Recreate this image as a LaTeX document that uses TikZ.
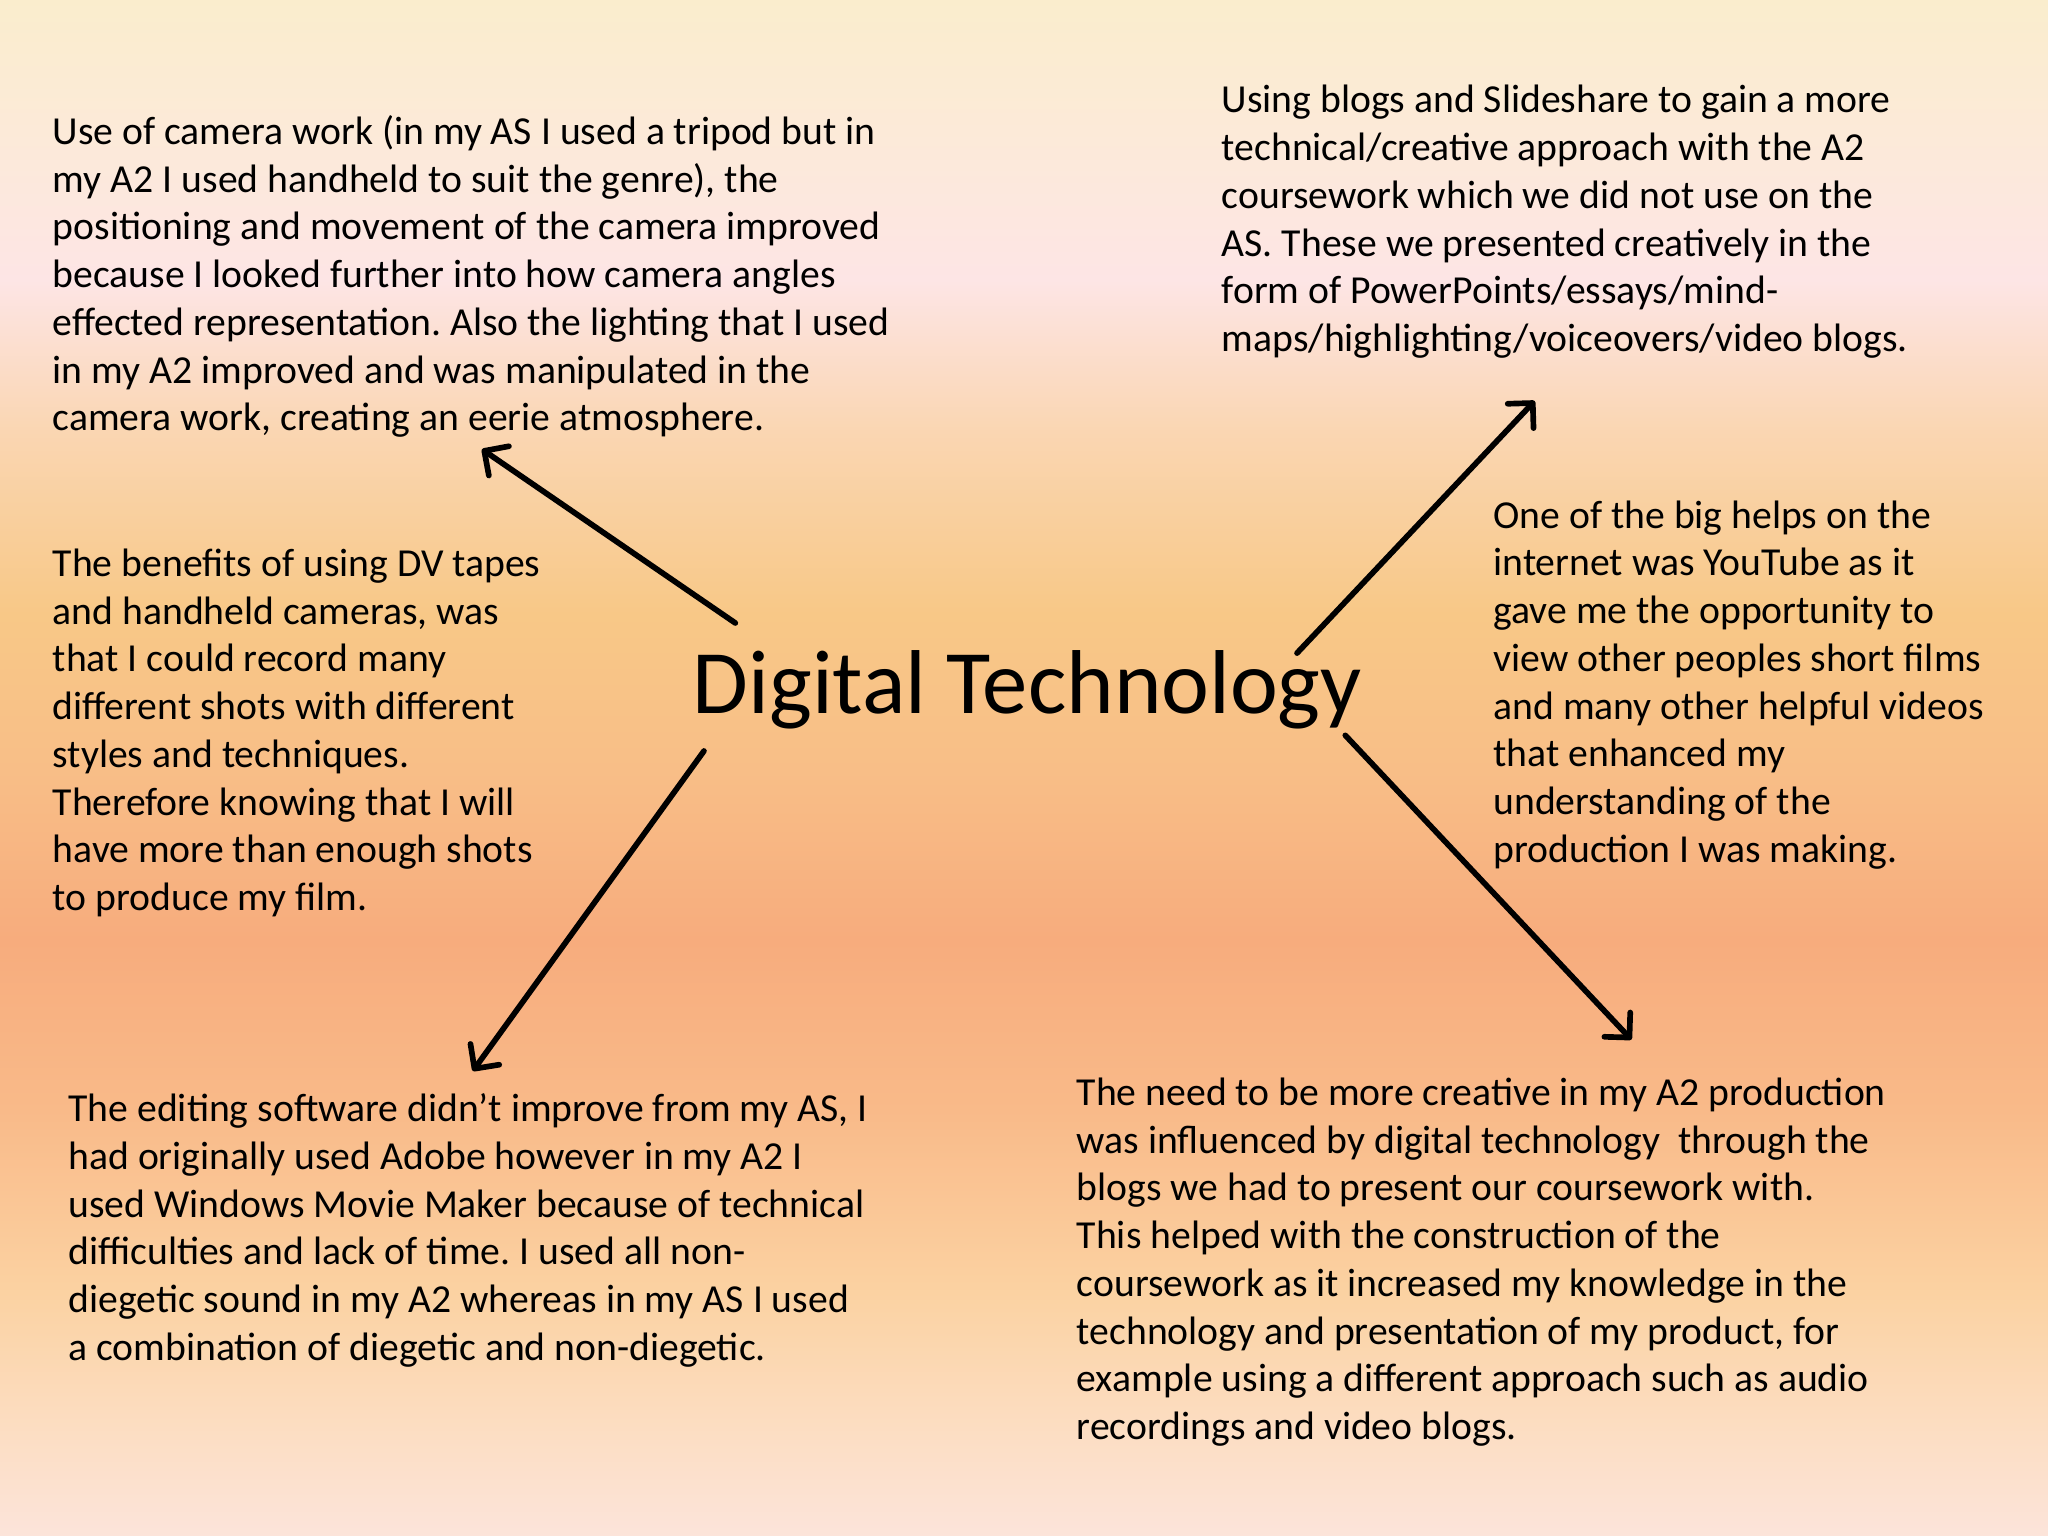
\documentclass[tikz,border=0pt]{standalone}
\usepackage{fontspec}
\setmainfont{Carlito}
\usetikzlibrary{arrows.meta}
\frenchspacing

\definecolor{bgA}{RGB}{250,237,205}
\definecolor{bgB}{RGB}{252,234,216}
\definecolor{bgC}{RGB}{253,229,229}
\definecolor{bgD}{RGB}{250,214,178}
\definecolor{bgE}{RGB}{248,200,135}
\definecolor{bgF}{RGB}{248,190,135}
\definecolor{bgG}{RGB}{247,172,125}
\definecolor{bgH}{RGB}{249,186,137}
\definecolor{bgI}{RGB}{251,210,162}
\definecolor{bgJ}{RGB}{252,222,196}
\definecolor{bgK}{RGB}{252,228,218}

\pgfdeclareverticalshading{slidebg}{100bp}{color(0bp)=(bgK); color(25bp)=(bgK);
  color(28.23bp)=(bgJ); color(32.90bp)=(bgI); color(38.86bp)=(bgH);
  color(44.40bp)=(bgG); color(49.91bp)=(bgF); color(55.03bp)=(bgE);
  color(60.96bp)=(bgD); color(65.87bp)=(bgC); color(70.75bp)=(bgB);
  color(75bp)=(bgA); color(100bp)=(bgA)}

% base of a blurb is the baseline of its last line
\tikzset{
  blurb/.style={anchor=base west, align=left, inner sep=0pt,
    font=\fontsize{14}{16.85}\selectfont},
  pointer/.style={-{Straight Barb[length=2.2mm,width=4.4mm,round]},
    line width=2pt, line cap=round},
}

\begin{document}
\begin{tikzpicture}
  \useasboundingbox (0,0) rectangle (25.4,19.05);
  \shade[shading=slidebg] (0,0) rectangle (25.4,19.05);

  \node[anchor=base west, inner sep=0pt, font=\fontsize{32}{38}\selectfont]
    (title) at (8.585,10.205) {Digital Technology};

  \node[blurb] (camera) at (0.648,13.707) {Use of camera work (in my AS I used a tripod but in\\
    my A2 I used handheld to suit the genre), the\\
    positioning and movement of the camera improved\\
    because I looked further into how camera angles\\
    effected representation. Also the lighting that I used\\
    in my A2 improved and was manipulated in the\\
    camera work, creating an eerie atmosphere.};
  \node[blurb] (blogs) at (15.146,14.689) {Using blogs and Slideshare to gain a more\\
    technical/creative approach with the A2\\
    coursework which we did not use on the\\
    AS. These we presented creatively in the\\
    form of PowerPoints/essays/mind-\\
    maps/highlighting/voiceovers/video blogs.};
  \node[blurb] (youtube) at (18.515,8.355) {One of the big helps on the\\
    internet was YouTube as it\\
    gave me the opportunity to\\
    view other peoples short films\\
    and many other helpful videos\\
    that enhanced my\\
    understanding of the\\
    production I was making.};
  \node[blurb] (tapes) at (0.648,7.755) {The benefits of using DV tapes\\
    and handheld cameras, was\\
    that I could record many\\
    different shots with different\\
    styles and techniques.\\
    Therefore knowing that I will\\
    have more than enough shots\\
    to produce my film.};
  \node[blurb] (editing) at (0.842,2.179) {The editing software didn’t improve from my AS, I\\
    had originally used Adobe however in my A2 I\\
    used Windows Movie Maker because of technical\\
    difficulties and lack of time. I used all non-\\
    diegetic sound in my A2 whereas in my AS I used\\
    a combination of diegetic and non-diegetic.};
  \node[blurb] (creative) at (13.348,1.195) {The need to be more creative in my A2 production\\
    was influenced by digital technology~ through the\\
    blogs we had to present our coursework with.\\
    This helped with the construction of the\\
    coursework as it increased my knowledge in the\\
    technology and presentation of my product, for\\
    example using a different approach such as audio\\
    recordings and video blogs.};

  \coordinate (camfrom) at (9.120,11.323);
  \coordinate (camto) at (5.977,13.478);
  \coordinate (blogfrom) at (16.086,10.950);
  \coordinate (blogto) at (19.034,14.077);
  \coordinate (editfrom) at (8.731,9.736);
  \coordinate (editto) at (5.864,5.767);
  \coordinate (creafrom) at (16.685,9.930);
  \coordinate (creato) at (20.233,6.156);

  \draw[pointer] (camfrom) -- (camto);
  \draw[pointer] (blogfrom) -- (blogto);
  \draw[pointer] (editfrom) -- (editto);
  \draw[pointer] (creafrom) -- (creato);
\end{tikzpicture}
\end{document}
